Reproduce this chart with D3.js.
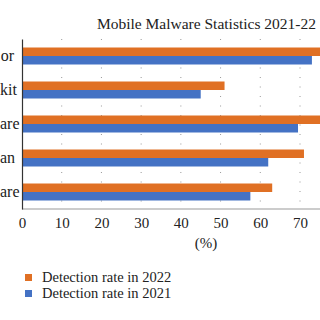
<!DOCTYPE html>
<html>
<head>
<meta charset="utf-8">
<script src="https://cdn.jsdelivr.net/npm/d3@7"></script>
<style>
  body { margin: 0; background: #fff; overflow: hidden; }
</style>
</head>
<body>
<script>
// category labels as visible in the source (it is cropped on the left)
const categories = ["or", "kit", "are", "an", "are"];
const rate2022 = [78, 51, 76, 71, 63];
const rate2021 = [73, 45, 69.5, 62, 57.5];
const xTicks = [0, 10, 20, 30, 40, 50, 60, 70];
const seriesNames = ["Detection rate in 2022", "Detection rate in 2021"];
const colors = ["#e07024", "#4472c4"];

const FONT = "'Liberation Serif', 'Times New Roman', serif";
const margin = { top: 39, left: 22 };
const width = 278 / 0.7; // 70 units = 278px
const height = 170;

const svg = d3.select("body")
    .append("svg")
    .attr("width", 320)
    .attr("height", 320)
    .style("font-family", FONT);

svg.append("text")
    .attr("x", 316)
    .attr("y", 29)
    .attr("text-anchor", "end")
    .attr("font-family", FONT)
    .attr("font-size", "15.5px")
    .attr("fill", "#222")
    .text("Mobile Malware Statistics 2021-22");

const g = svg.append("g")
    .attr("transform", "translate(" + margin.left + "," + margin.top + ")");

var xScale = d3.scaleLinear()
    .domain([0, 100])
    .range([0, width]);

var yScale = d3.scaleBand()
    .domain(d3.range(categories.length))
    .range([0, height])
    .paddingInner(0.5)
    .paddingOuter(0.25);

// dotted grid
g.selectAll(".grid")
    .data(xTicks.slice(1))
    .enter()
    .append("line")
    .attr("class", "grid")
    .attr("x1", d => xScale(d))
    .attr("x2", d => xScale(d))
    .attr("y1", 0)
    .attr("y2", height)
    .attr("stroke", "#999")
    .attr("stroke-width", 1)
    .attr("stroke-dasharray", "1,8.5");

const bh = yScale.bandwidth() / 2;
categories.forEach(function (c, i) {
    [rate2022[i], rate2021[i]].forEach(function (v, j) {
        g.append("rect")
            .attr("x", 0)
            .attr("y", yScale(i) + j * bh)
            .attr("width", xScale(v))
            .attr("height", bh)
            .attr("fill", colors[j]);
    });
});

// x axis
const xAxis = d3.axisBottom(xScale).tickValues(xTicks).tickSize(0).tickPadding(8);
const xa = g.append("g")
    .attr("transform", "translate(0," + height + ")")
    .call(xAxis);
xa.attr("font-family", FONT);
xa.select(".domain").attr("stroke", "#999").attr("d", "M0,0H" + 320);
xa.selectAll("text").attr("font-size", "15px").attr("fill", "#222");

// y axis
const yAxis = d3.axisLeft(yScale).tickSize(0).tickPadding(8).tickFormat(i => categories[i]);
const ya = g.append("g").call(yAxis);
ya.attr("font-family", FONT);
ya.select(".domain").attr("stroke", "#333").attr("stroke-width", 1.2);
ya.selectAll("text")
    .attr("font-size", "16px")
    .attr("fill", "#222")
    .each(function () {
        // keep the label inside the page
        var w = this.getComputedTextLength();
        var x = -8;
        if (margin.left + x - w < 0) x = w - margin.left;
        d3.select(this).attr("x", x);
    });

svg.append("text")
    .attr("x", 206)
    .attr("y", 248)
    .attr("text-anchor", "middle")
    .attr("font-family", FONT)
    .attr("font-size", "15px")
    .attr("fill", "#222")
    .text("(%)");

// legend
const legend = svg.selectAll(".legend")
    .data(seriesNames)
    .enter()
    .append("g")
    .attr("class", "legend")
    .attr("transform", (d, i) => "translate(25," + (274 + i * 16) + ")");
legend.append("rect")
    .attr("width", 7)
    .attr("height", 7)
    .attr("fill", (d, i) => colors[i]);
legend.append("text")
    .attr("x", 17)
    .attr("y", 8)
    .attr("font-family", FONT)
    .attr("font-size", "14.5px")
    .attr("fill", "#222")
    .text(d => d);
</script>
</body>
</html>
